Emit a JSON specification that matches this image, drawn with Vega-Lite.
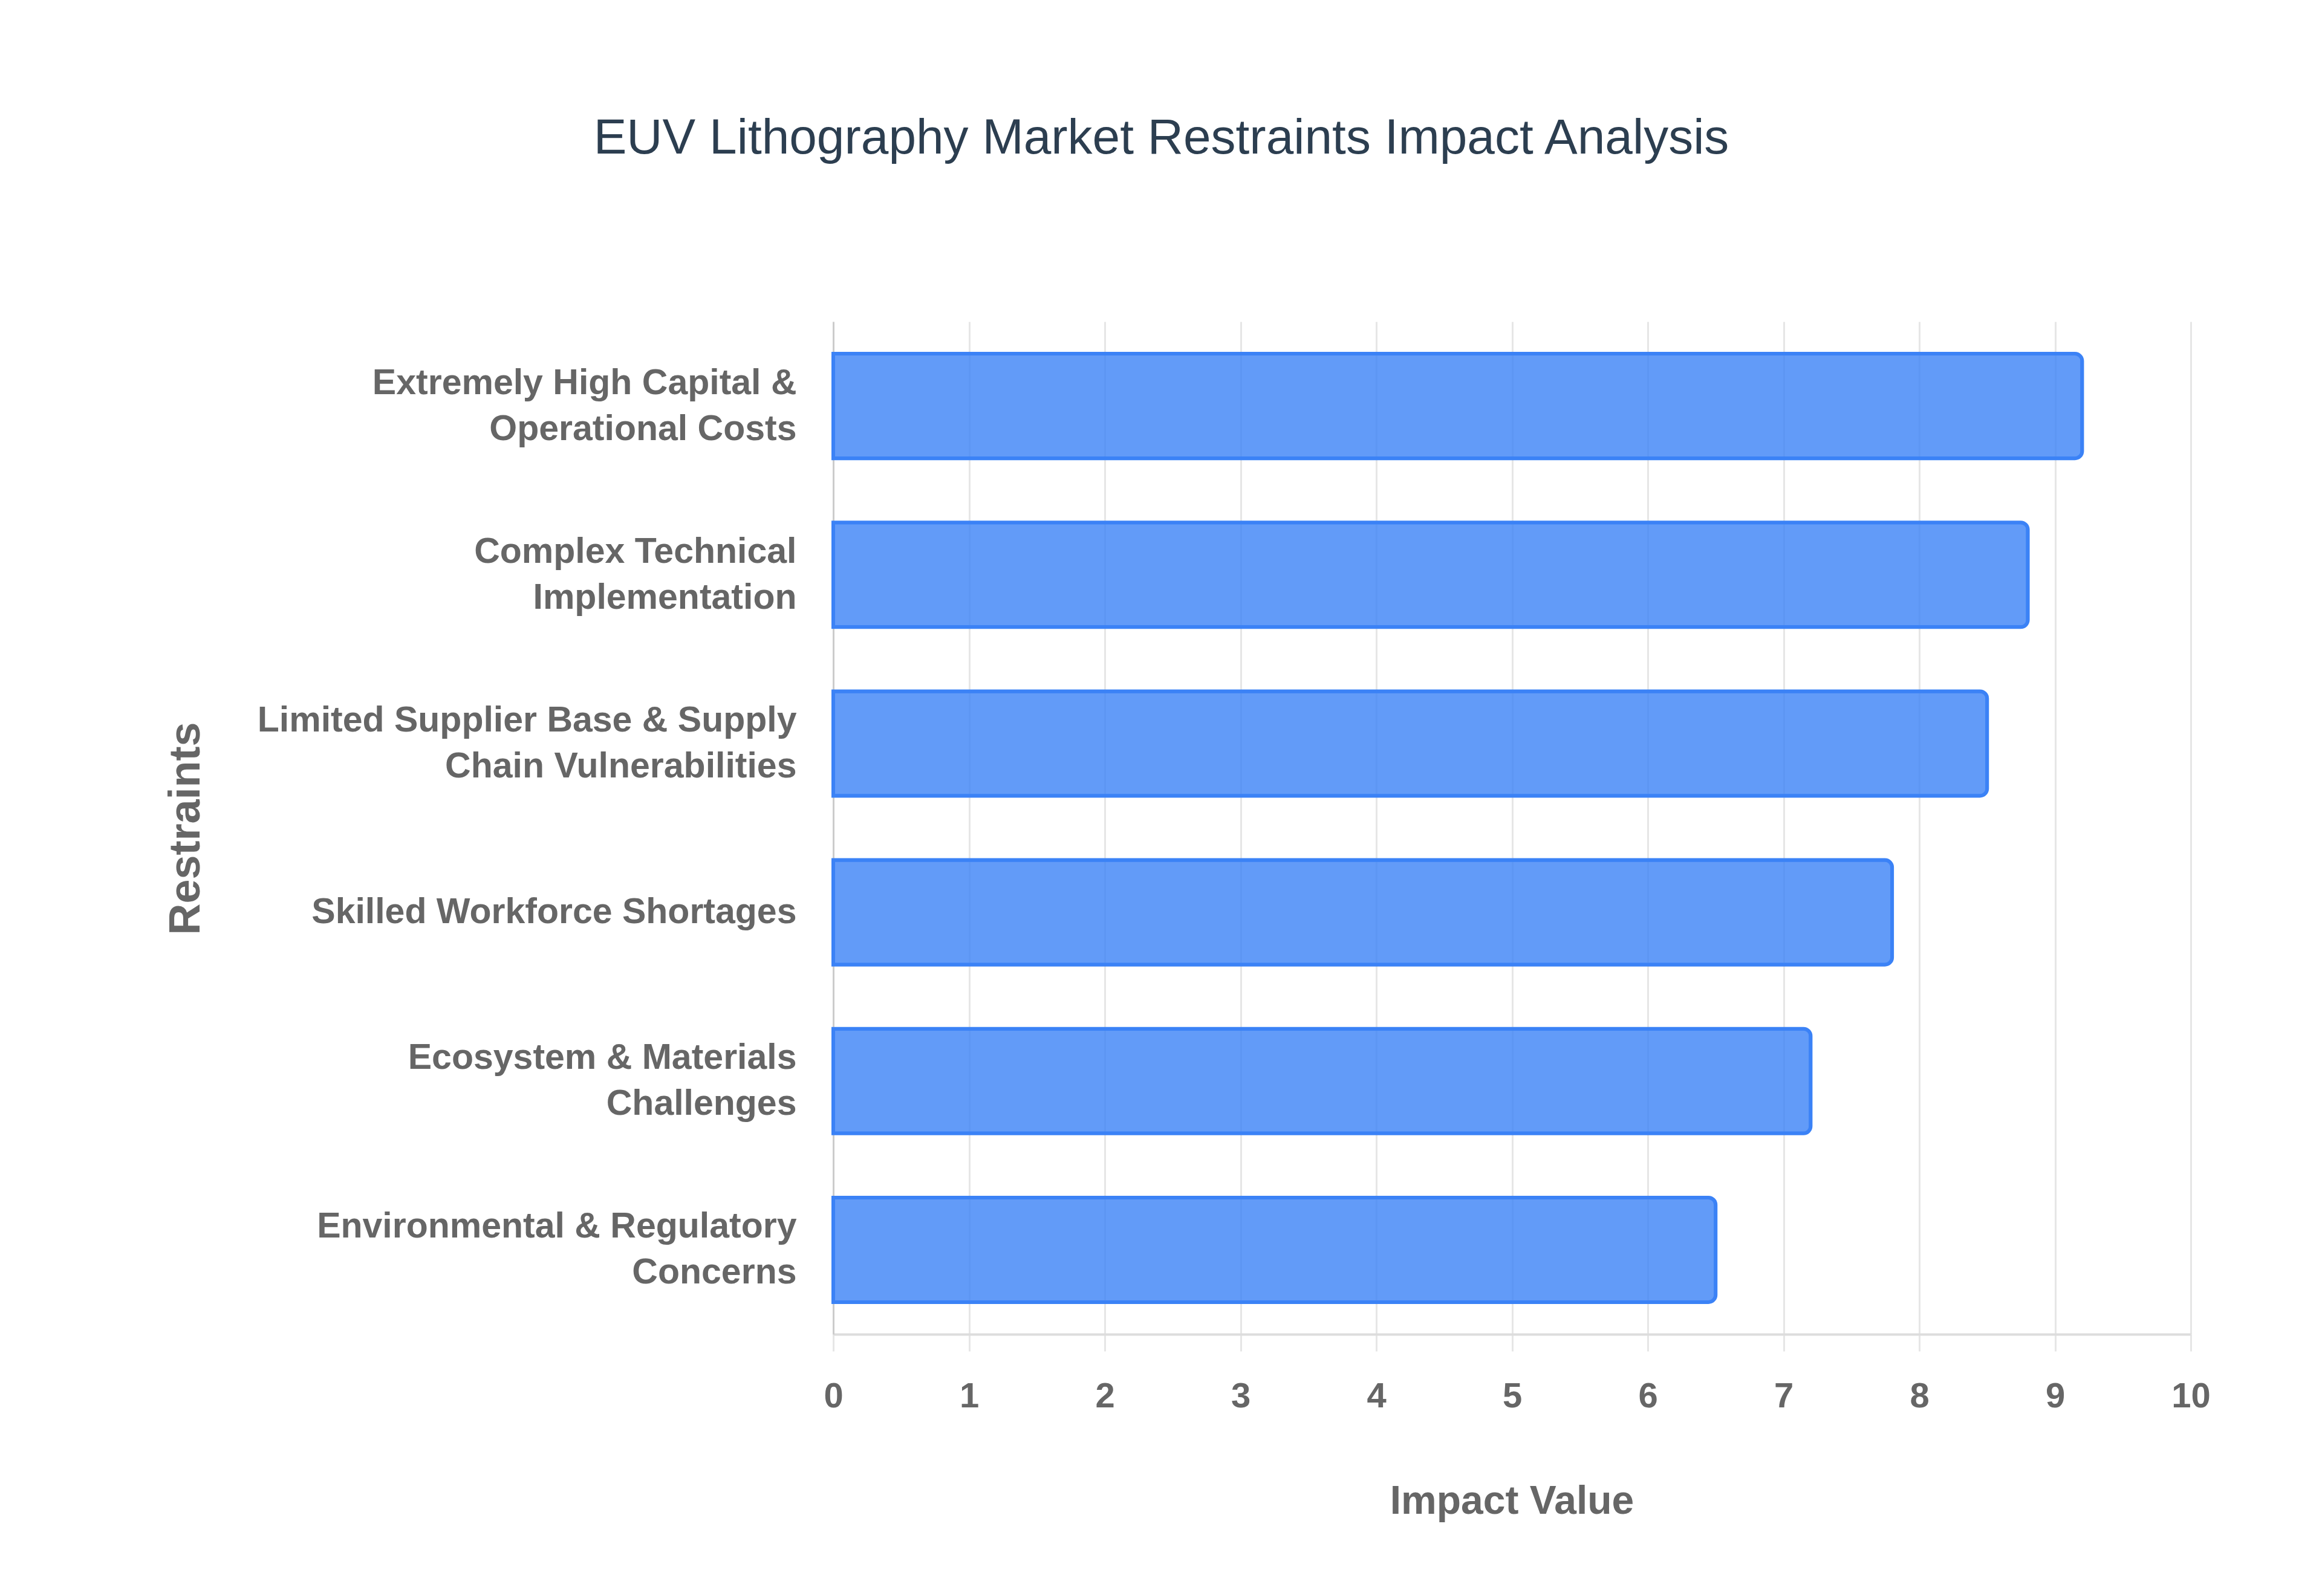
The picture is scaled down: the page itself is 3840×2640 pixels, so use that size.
{
  "$schema": "https://vega.github.io/schema/vega-lite/v6.json",
  "autosize": "none",
  "width": 2245,
  "height": 1675,
  "padding": {"left": 1378, "top": 532, "right": 217, "bottom": 433},
  "background": "#ffffff",
  "config": {"view": {"stroke": null}},
  "title": {
    "text": "EUV Lithography Market Restraints Impact Analysis",
    "font": "Liberation Sans",
    "fontSize": 82,
    "fontWeight": "normal",
    "color": "#2c3e50",
    "anchor": "middle",
    "baseline": "alphabetic",
    "offset": 196,
    "dx": -580
  },
  "data": {
    "values": [
      {"restraint": "Extremely High Capital &\nOperational Costs", "impact": 9.2},
      {"restraint": "Complex Technical\nImplementation", "impact": 8.8},
      {"restraint": "Limited Supplier Base & Supply\nChain Vulnerabilities", "impact": 8.5},
      {"restraint": "Skilled Workforce Shortages", "impact": 7.8},
      {"restraint": "Ecosystem & Materials\nChallenges", "impact": 7.2},
      {"restraint": "Environmental & Regulatory\nConcerns", "impact": 6.5}
    ]
  },
  "mark": {
    "type": "bar",
    "color": "#3b82f6",
    "fillOpacity": 0.8,
    "stroke": "#3b82f6",
    "strokeWidth": 6,
    "cornerRadiusEnd": 12
  },
  "encoding": {
    "y": {
      "field": "restraint",
      "type": "nominal",
      "sort": null,
      "scale": {"paddingInner": 0.38, "paddingOuter": 0.19},
      "title": "Restraints",
      "axis": {
        "labelExpr": "split(datum.label, '\\n')",
        "labelFont": "Liberation Sans",
        "labelFontWeight": "bold",
        "labelFontSize": 59,
        "labelColor": "#666666",
        "labelLineHeight": 76,
        "labelPadding": 61,
        "labelLimit": 1200,
        "labelOffset": {
          "condition": {"test": "indexof(datum.value, '\\n') >= 0", "value": -38},
          "value": 0
        },
        "ticks": false,
        "grid": false,
        "domain": true,
        "domainColor": "#cccccc",
        "domainWidth": 3,
        "titleFont": "Liberation Sans",
        "titleFontWeight": "bold",
        "titleFontSize": 72,
        "titleColor": "#666666",
        "titleAngle": -90,
        "titleBaseline": "alphabetic",
        "titleAlign": "center",
        "titleX": -1049,
        "titleY": 838
      }
    },
    "x": {
      "field": "impact",
      "type": "quantitative",
      "scale": {"domain": [0, 10], "nice": false},
      "title": "Impact Value",
      "axis": {
        "values": [0, 1, 2, 3, 4, 5, 6, 7, 8, 9, 10],
        "labelFont": "Liberation Sans",
        "labelFontWeight": "bold",
        "labelFontSize": 58,
        "labelColor": "#666666",
        "labelBaseline": "alphabetic",
        "labelFlush": false,
        "labelPadding": 92,
        "ticks": true,
        "tickSize": 28,
        "tickColor": "#e6e6e6",
        "tickWidth": 3,
        "grid": true,
        "gridColor": "#e6e6e6",
        "gridWidth": 3,
        "domainColor": "#dddddd",
        "domainWidth": 4,
        "titleFont": "Liberation Sans",
        "titleFontWeight": "bold",
        "titleFontSize": 66,
        "titleColor": "#666666",
        "titleBaseline": "alphabetic",
        "titleX": 1122,
        "titleY": 296
      }
    },
    "tooltip": [
      {"field": "restraint", "title": "Restraint"},
      {"field": "impact", "title": "Impact Value"}
    ]
  }
}
